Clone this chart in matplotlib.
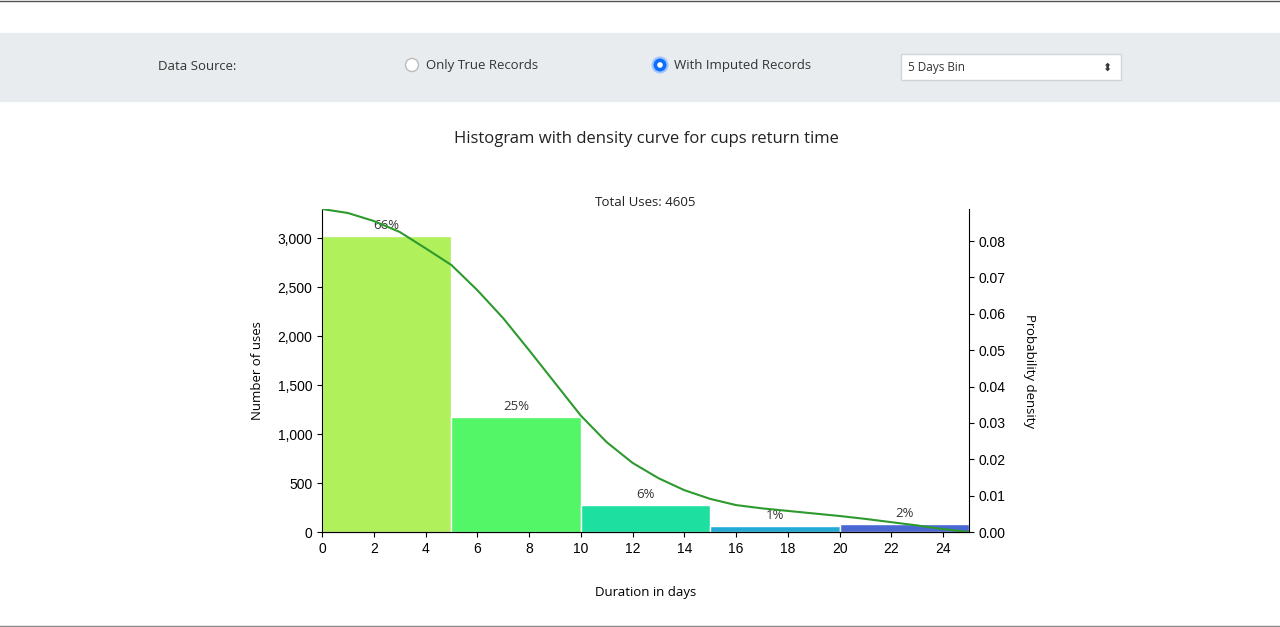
import numpy as np
import matplotlib.pyplot as plt
from matplotlib.patches import Rectangle, Circle

# data
bin_left = [0, 5, 10, 15, 20]
bin_width = 5
counts = [3020, 1170, 280, 65, 85]
pct_labels = ['66%', '25%', '6%', '1%', '2%']
bar_colors = ['#aff05b', '#52f667', '#1ddfa0', '#23abd6', '#4a68d3']
curve_x = [0, 1, 2, 3, 4, 5, 6, 7, 8, 9, 10, 11, 12, 13, 14, 15, 16, 17, 18,
           19, 20, 21, 22, 23, 24, 25]
curve_y = [0.0888, 0.0877, 0.0855, 0.0825, 0.078, 0.0734, 0.0665, 0.0588, 0.050,
           0.041, 0.032, 0.0247, 0.019, 0.0148, 0.0115, 0.0091, 0.0074, 0.0065,
           0.0058, 0.0051, 0.0044, 0.0036, 0.0027, 0.0018, 0.0008, 0.0]
total_uses = 4605

plt.rcParams['font.family'] = 'Open Sans'

W, H = 1280, 627
fig = plt.figure(figsize=(W / 100, H / 100), dpi=100)
fig.patch.set_facecolor('white')

# header band with controls
hdr = fig.add_axes([0, 0, 1, 1], zorder=-1)
hdr.set_xlim(0, W)
hdr.set_ylim(H, 0)
hdr.axis('off')
hdr.add_patch(Rectangle((0, 33), W, 68, color='#e9ecef'))
hdr.plot([0, W], [0.5, 0.5], color='#555555', lw=1)
hdr.plot([0, W], [626, 626], color='#888888', lw=1)
hdr.text(158, 66, 'Data Source:', fontsize=9.5, va='center', color='#333333')
hdr.add_patch(Circle((412, 65), 6.5, facecolor='white', edgecolor='#bbbbbb', lw=1))
hdr.text(426, 66, 'Only True Records', fontsize=9.5, va='center', color='#333333')
hdr.add_patch(Circle((660, 65), 7.5, facecolor='#0d6efd', edgecolor='#9ec5fe', lw=1.5))
hdr.add_patch(Circle((660, 65), 2.8, facecolor='white'))
hdr.text(674, 66, 'With Imputed Records', fontsize=9.5, va='center', color='#333333')
hdr.add_patch(Rectangle((901, 54), 220, 26, facecolor='white', edgecolor='#ced4da', lw=1))
hdr.text(908, 68, '5 Days Bin', fontsize=8.5, va='center', color='#333333')
hdr.text(1107, 68, '\u2b0d', fontsize=8, va='center', ha='center', color='#333333',
         family='DejaVu Sans')
hdr.text(646, 139, 'Histogram with density curve for cups return time',
         fontsize=12, ha='center', va='center', color='#222222')

ax = fig.add_axes([322 / W, 1 - 532 / H, (969 - 322) / W, (532 - 209) / H])
ax.bar(bin_left, counts, width=bin_width, align='edge', color=bar_colors,
       edgecolor='white', linewidth=1)
for x, c, p in zip(bin_left, counts, pct_labels):
    ax.text(x + bin_width / 2, c + 40, p, ha='center', va='bottom', fontsize=9.5,
            color='#333333')
ax.set_xlim(0, 25)
ax.set_ylim(0, 3296)
ax.set_xticks(range(0, 25, 2))
ax.set_yticks(range(0, 3001, 500))
ax.set_yticklabels(['{:,}'.format(v) for v in range(0, 3001, 500)])
ax.set_ylabel('Number of uses', fontsize=9.5, labelpad=10)
ax.set_xlabel('Duration in days', fontsize=9.5, labelpad=22)
ax.spines['top'].set_visible(False)
ax.spines['right'].set_visible(False)
ax.tick_params(labelsize=10)
for lab in ax.get_xticklabels() + ax.get_yticklabels():
    lab.set_family('Liberation Sans')
ax.text(0.5, 1.0, 'Total Uses: {}'.format(total_uses), transform=ax.transAxes,
        ha='center', va='bottom', fontsize=9.5, color='#222222')

ax2 = ax.twinx()
ax2.plot(curve_x, curve_y, color='#2e9a2e', lw=1.5)
ax2.set_ylim(0, 0.0888)
ax2.set_yticks(np.arange(0, 0.081, 0.01))
ax2.set_yticklabels(['{:.2f}'.format(v) for v in np.arange(0, 0.081, 0.01)])
ax2.set_ylabel('Probability density', fontsize=9.5, rotation=270, labelpad=22)
ax2.spines['top'].set_visible(False)
ax2.spines['left'].set_visible(False)
ax2.tick_params(labelsize=10)
for lab in ax2.get_yticklabels():
    lab.set_family('Liberation Sans')

fig.savefig('out.png', dpi=100)
